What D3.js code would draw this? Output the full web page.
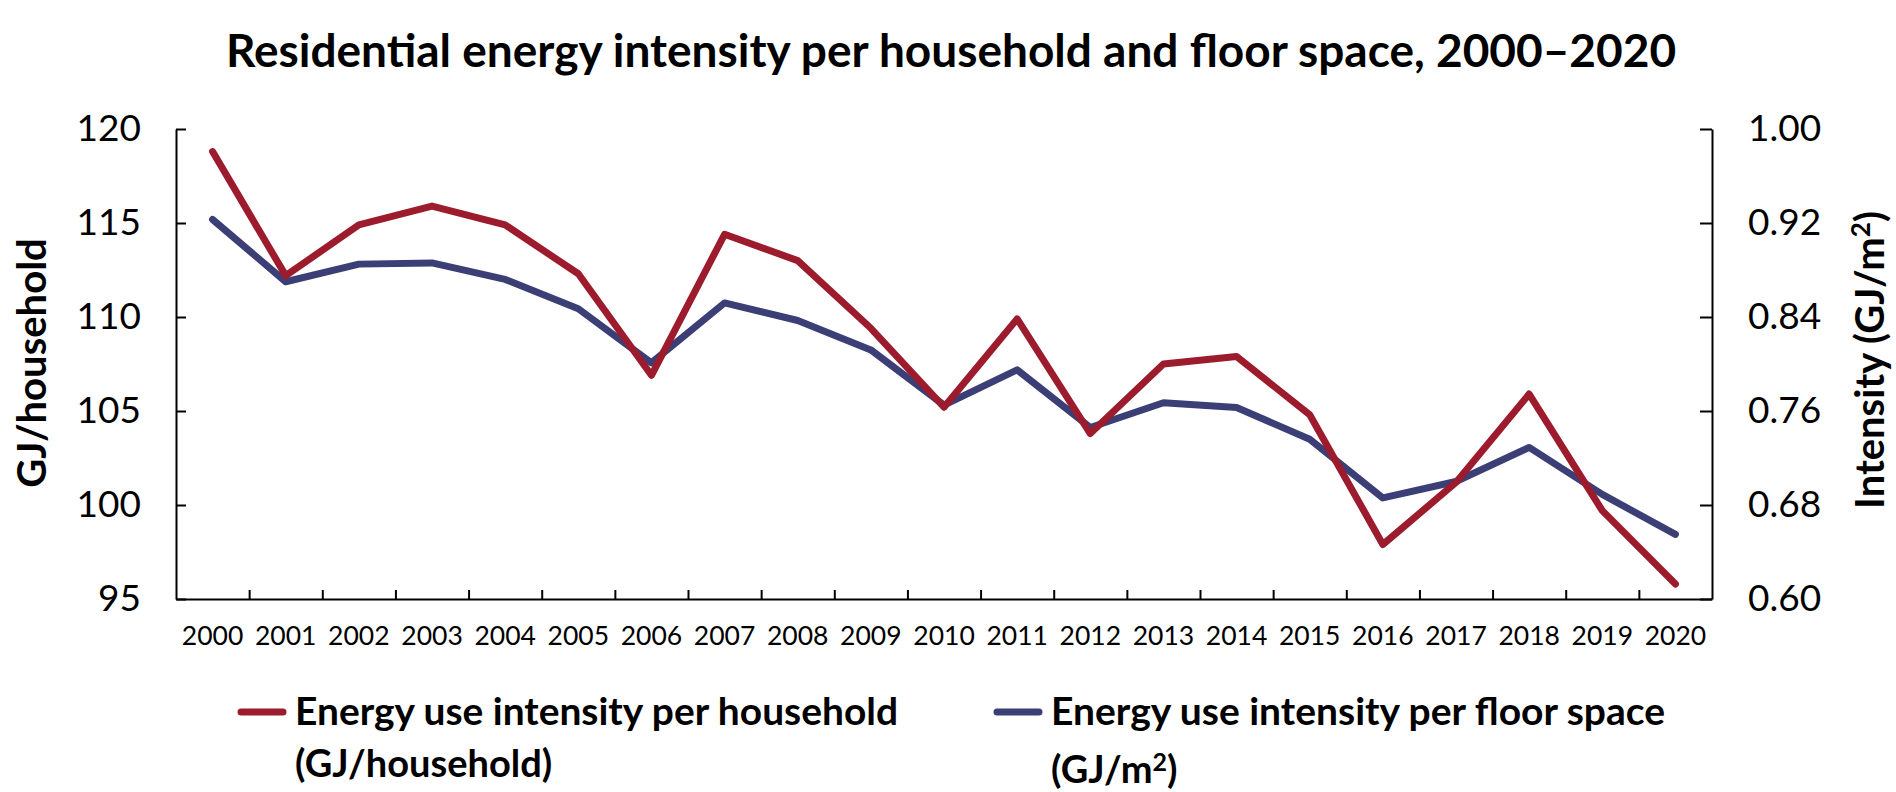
<!DOCTYPE html>
<html>
<head>
<meta charset="utf-8">
<script src="https://cdn.jsdelivr.net/npm/d3@7/dist/d3.min.js"></script>
<style>
  html, body { margin: 0; padding: 0; background: #ffffff; }
  svg { display: block; }
  text { font-family: Lato, "Open Sans", sans-serif; fill: #000; }
</style>
</head>
<body>
<svg id="chart" width="1896" height="792"></svg>
<script>
const years = ["2000","2001","2002","2003","2004","2005","2006","2007","2008","2009","2010",
               "2011","2012","2013","2014","2015","2016","2017","2018","2019","2020"];
const perHousehold = [118.8, 112.2, 114.9, 115.9, 114.9, 112.3, 106.9, 114.4, 113.0, 109.4, 105.2,
                      109.9, 103.8, 107.5, 107.9, 104.8, 97.9, 101.2, 105.9, 99.7, 95.8];
const perFloor = [0.923, 0.870, 0.885, 0.886, 0.872, 0.847, 0.801, 0.852, 0.837, 0.812, 0.765,
                  0.795, 0.746, 0.767, 0.763, 0.736, 0.686, 0.700, 0.729, 0.689, 0.655];
const leftTicks = [95, 100, 105, 110, 115, 120];
const rightTicks = [0.60, 0.68, 0.76, 0.84, 0.92, 1.00];
const seriesNames = ["Energy use intensity per household", "Energy use intensity per floor space"];
const title = "Residential energy intensity per household and floor space, 2000–2020";
const leftTitle = "GJ/household";
const colors = ["#9c1b2d", "#3b3f76"];

const svg = d3.select("#chart");
const L = 176, R = 1712, T = 129, B = 599;

const x = d3.scaleBand().domain(years).range([L, R]).padding(0);
const xb = d3.scaleLinear().domain([0, years.length]).range([L, R]);
const yL = d3.scaleLinear().domain([95, 120]).range([B, T]);
const yR = d3.scaleLinear().domain([0.60, 1.00]).range([B, T]);

// Title
svg.append("text").attr("x", 951).attr("y", 67).attr("text-anchor", "middle")
  .style("font-weight", "bold").style("font-size", "46px").text(title);

// Axes
svg.append("g").attr("transform", `translate(0,${B})`)
  .call(d3.axisBottom(xb).tickValues(d3.range(1, years.length)).tickSize(-9).tickSizeOuter(0).tickFormat(""));
const gxl = svg.append("g").attr("transform", `translate(0,${B})`)
  .call(d3.axisBottom(x).tickSize(0).tickPadding(27));
gxl.select(".domain").remove();
gxl.selectAll("text").style("font-size", "26.5px").style("font-family", "Lato");

const gl = svg.append("g").attr("transform", `translate(${L},0)`)
  .call(d3.axisLeft(yL).tickValues(leftTicks).tickSize(-10).tickSizeOuter(0).tickPadding(35).tickFormat(d3.format("d")));
gl.selectAll("text").style("font-size", "37px").style("font-family", "Lato");

const gr = svg.append("g").attr("transform", `translate(${R},0)`)
  .call(d3.axisRight(yR).tickValues(rightTicks).tickSize(-12).tickSizeOuter(0).tickPadding(36).tickFormat(d3.format(".2f")));
gr.selectAll("text").style("font-size", "37px").style("font-family", "Lato");

svg.selectAll(".domain, .tick line").attr("stroke", "#000").attr("stroke-width", 2);

// Axis titles
svg.append("text").attr("transform", `translate(46,363) rotate(-90)`).attr("text-anchor", "middle")
  .style("font-weight", "bold").style("font-size", "40px").text(leftTitle);
const rt = svg.append("text").attr("transform", `translate(1884,360) rotate(-90)`).attr("text-anchor", "middle")
  .style("font-weight", "bold").style("font-size", "40px");
rt.append("tspan").text("Intensity (GJ/m");
rt.append("tspan").attr("dy", -14).style("font-size", "26px").text("2");
rt.append("tspan").attr("dy", 14).text(")");

// Lines
const lineL = d3.line().x((d, i) => x(years[i]) + x.bandwidth() / 2).y(d => yL(d));
const lineR = d3.line().x((d, i) => x(years[i]) + x.bandwidth() / 2).y(d => yR(d));
svg.append("path").datum(perFloor).attr("d", lineR).attr("fill", "none")
  .attr("stroke", colors[1]).attr("stroke-width", 7).attr("stroke-linejoin", "round").attr("stroke-linecap", "round");
svg.append("path").datum(perHousehold).attr("d", lineL).attr("fill", "none")
  .attr("stroke", colors[0]).attr("stroke-width", 7).attr("stroke-linejoin", "round").attr("stroke-linecap", "round");

// Legend
const legX = [241, 997];
const legW = [603, 614];
seriesNames.forEach((name, i) => {
  const g = svg.append("g");
  g.append("line").attr("x1", legX[i]).attr("x2", legX[i] + 42).attr("y1", 712).attr("y2", 712)
    .attr("stroke", colors[i]).attr("stroke-width", 7).attr("stroke-linecap", "round");
  g.append("text").attr("x", legX[i] + 54).attr("y", 725).style("font-weight", "bold")
    .style("font-size", "38px").attr("textLength", legW[i]).attr("lengthAdjust", "spacingAndGlyphs").text(name);
  const t2 = g.append("text").attr("x", legX[i] + 54).attr("y", i === 0 ? 777 : 783)
    .style("font-weight", "bold").style("font-size", "38px");
  if (i === 0) t2.text("(GJ/household)");
  else {
    t2.append("tspan").text("(GJ/m");
    t2.append("tspan").attr("dy", -12).style("font-size", "25px").text("2");
    t2.append("tspan").attr("dy", 12).text(")");
  }
});
</script>
</body>
</html>
